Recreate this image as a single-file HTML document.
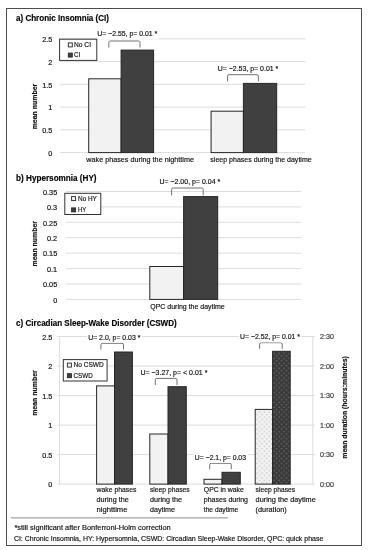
<!DOCTYPE html>
<html lang="en"><head><meta charset="utf-8"><title>Figure</title>
<style>html,body{margin:0;padding:0;background:#fff}body{width:369px;height:550px;overflow:hidden}svg{display:block}text{font-family:'Liberation Sans', sans-serif;stroke:#222;stroke-width:0.18px;paint-order:stroke}</style>
</head><body>
<svg width="369" height="550" viewBox="0 0 369 550" font-family='"Liberation Sans", sans-serif'>
<defs>
<pattern id="dl" width="4.88" height="4.88" patternUnits="userSpaceOnUse" x="273.0" y="406.0"><rect width="4.88" height="4.88" fill="#f2f2f2"/><rect x="0.7" y="0.7" width="1" height="1" fill="#a6a6a6"/><rect x="3.14" y="3.14" width="1" height="1" fill="#a6a6a6"/></pattern>
<pattern id="dd" width="4.88" height="4.88" patternUnits="userSpaceOnUse" x="273.0" y="406.0"><rect width="4.88" height="4.88" fill="#3a3a3a"/><rect x="0.7" y="0.7" width="1" height="1" fill="#909090"/><rect x="3.14" y="3.14" width="1" height="1" fill="#909090"/></pattern>
</defs>
<rect x="0" y="0" width="369" height="550" fill="#fff"/>
<rect x="6.5" y="8.5" width="355" height="537" fill="none" stroke="#4d4d4d" stroke-width="1"/>
<text x="16.0" y="20.8" font-size="8.8" text-anchor="start" font-weight="bold" fill="#000" textLength="93.0" lengthAdjust="spacingAndGlyphs">a) Chronic Insomnia (CI)</text>
<line x1="59.6" y1="38.8" x2="305.3" y2="38.8" stroke="#dcdcdc" stroke-width="1"/>
<text x="52.3" y="42.1" font-size="7.3" text-anchor="end" fill="#111">2.5</text>
<line x1="59.6" y1="61.6" x2="305.3" y2="61.6" stroke="#dcdcdc" stroke-width="1"/>
<text x="52.3" y="64.9" font-size="7.3" text-anchor="end" fill="#111">2</text>
<line x1="59.6" y1="84.3" x2="305.3" y2="84.3" stroke="#dcdcdc" stroke-width="1"/>
<text x="52.3" y="87.6" font-size="7.3" text-anchor="end" fill="#111">1.5</text>
<line x1="59.6" y1="107.1" x2="305.3" y2="107.1" stroke="#dcdcdc" stroke-width="1"/>
<text x="52.3" y="110.4" font-size="7.3" text-anchor="end" fill="#111">1</text>
<line x1="59.6" y1="129.8" x2="305.3" y2="129.8" stroke="#dcdcdc" stroke-width="1"/>
<text x="52.3" y="133.1" font-size="7.3" text-anchor="end" fill="#111">0.5</text>
<line x1="59.6" y1="152.6" x2="305.3" y2="152.6" stroke="#dcdcdc" stroke-width="1"/>
<text x="52.3" y="155.9" font-size="7.3" text-anchor="end" fill="#111">0</text>
<text transform="translate(37.0,106.5) rotate(-90)" x="-22.8" y="0" font-size="7.3" font-weight="bold" fill="#111" textLength="45.5" lengthAdjust="spacingAndGlyphs">mean number</text>
<rect x="88.7" y="78.8" width="32.4" height="73.8" fill="#f2f2f2" stroke="#262626" stroke-width="1"/>
<rect x="121.1" y="50.1" width="32.5" height="102.5" fill="#404040" stroke="#262626" stroke-width="1"/>
<rect x="211.1" y="111.2" width="32.3" height="41.4" fill="#f2f2f2" stroke="#262626" stroke-width="1"/>
<rect x="243.4" y="83.4" width="33.3" height="69.2" fill="#404040" stroke="#262626" stroke-width="1"/>
<path d="M108.8 47.5 V42.5 Q108.8 41.0 110.3 41.0 H138.5 Q140.0 41.0 140.0 42.5 V47.5" fill="none" stroke="#4d4d4d" stroke-width="0.8"/>
<path d="M227.5 81.3 V76.2 Q227.5 74.7 229.0 74.7 H256.9 Q258.4 74.7 258.4 76.2 V81.3" fill="none" stroke="#4d4d4d" stroke-width="0.8"/>
<rect x="95.7" y="29.0" width="63.1" height="10.2" fill="#fff"/>
<text x="97.2" y="36.2" font-size="7.3" text-anchor="start" fill="#111" textLength="60.1" lengthAdjust="spacingAndGlyphs">U= −2.55, p= 0.01 *</text>
<text x="217.7" y="71.1" font-size="7.3" text-anchor="start" fill="#111" textLength="60.6" lengthAdjust="spacingAndGlyphs">U= −2.53, p= 0.01 *</text>
<rect x="59.6" y="39.2" width="37.2" height="21.2" fill="#fff" stroke="#333" stroke-width="1"/>
<rect x="68.3" y="42.9" width="4" height="4" fill="#f2f2f2" stroke="#262626" stroke-width="0.9"/>
<rect x="68.3" y="53.1" width="4" height="4" fill="#404040" stroke="#262626" stroke-width="0.9"/>
<text x="74.0" y="47.0" font-size="7.3" text-anchor="start" fill="#111" textLength="17.0" lengthAdjust="spacingAndGlyphs">No CI</text>
<text x="74.0" y="57.3" font-size="7.3" text-anchor="start" fill="#111" textLength="6.2" lengthAdjust="spacingAndGlyphs">CI</text>
<text x="86.3" y="161.9" font-size="7.3" text-anchor="start" fill="#111" textLength="107.7" lengthAdjust="spacingAndGlyphs">wake phases during the nighttime</text>
<text x="210.3" y="161.9" font-size="7.3" text-anchor="start" fill="#111" textLength="101.4" lengthAdjust="spacingAndGlyphs">sleep phases during the daytime</text>
<text x="16.1" y="180.8" font-size="8.8" text-anchor="start" font-weight="bold" fill="#000" textLength="80.5" lengthAdjust="spacingAndGlyphs">b) Hypersomnia (HY)</text>
<line x1="66.0" y1="191.5" x2="301.0" y2="191.5" stroke="#dcdcdc" stroke-width="1"/>
<text x="57.2" y="194.7" font-size="7.3" text-anchor="end" fill="#111">0.35</text>
<line x1="66.0" y1="206.9" x2="301.0" y2="206.9" stroke="#dcdcdc" stroke-width="1"/>
<text x="57.2" y="210.1" font-size="7.3" text-anchor="end" fill="#111">0.3</text>
<line x1="66.0" y1="222.3" x2="301.0" y2="222.3" stroke="#dcdcdc" stroke-width="1"/>
<text x="57.2" y="225.5" font-size="7.3" text-anchor="end" fill="#111">0.25</text>
<line x1="66.0" y1="237.7" x2="301.0" y2="237.7" stroke="#dcdcdc" stroke-width="1"/>
<text x="57.2" y="240.9" font-size="7.3" text-anchor="end" fill="#111">0.2</text>
<line x1="66.0" y1="253.2" x2="301.0" y2="253.2" stroke="#dcdcdc" stroke-width="1"/>
<text x="57.2" y="256.4" font-size="7.3" text-anchor="end" fill="#111">0.15</text>
<line x1="66.0" y1="268.6" x2="301.0" y2="268.6" stroke="#dcdcdc" stroke-width="1"/>
<text x="57.2" y="271.8" font-size="7.3" text-anchor="end" fill="#111">0.1</text>
<line x1="66.0" y1="284.0" x2="301.0" y2="284.0" stroke="#dcdcdc" stroke-width="1"/>
<text x="57.2" y="287.2" font-size="7.3" text-anchor="end" fill="#111">0.05</text>
<line x1="66.0" y1="299.4" x2="301.0" y2="299.4" stroke="#dcdcdc" stroke-width="1"/>
<text x="57.2" y="302.6" font-size="7.3" text-anchor="end" fill="#111">0</text>
<text transform="translate(37.0,243.7) rotate(-90)" x="-22.8" y="0" font-size="7.3" font-weight="bold" fill="#111" textLength="45.5" lengthAdjust="spacingAndGlyphs">mean number</text>
<rect x="149.8" y="266.5" width="33.8" height="32.9" fill="#f2f2f2" stroke="#262626" stroke-width="1"/>
<rect x="183.6" y="196.6" width="34.1" height="102.8" fill="#404040" stroke="#262626" stroke-width="1"/>
<path d="M171.6 195.4 V189.5 Q171.6 188.0 173.1 188.0 H201.7 Q203.2 188.0 203.2 189.5 V195.4" fill="none" stroke="#4d4d4d" stroke-width="0.8"/>
<text x="159.4" y="184.3" font-size="7.3" text-anchor="start" fill="#111" textLength="60.8" lengthAdjust="spacingAndGlyphs">U= −2.00, p= 0.04 *</text>
<rect x="64.8" y="193.3" width="36.0" height="21.2" fill="#fff" stroke="#333" stroke-width="1"/>
<rect x="71.6" y="196.6" width="4" height="4" fill="#f2f2f2" stroke="#262626" stroke-width="0.9"/>
<rect x="71.6" y="207.9" width="4" height="4" fill="#404040" stroke="#262626" stroke-width="0.9"/>
<text x="78.0" y="200.7" font-size="7.3" text-anchor="start" fill="#111" textLength="18.9" lengthAdjust="spacingAndGlyphs">No HY</text>
<text x="78.0" y="212.1" font-size="7.3" text-anchor="start" fill="#111" textLength="8.2" lengthAdjust="spacingAndGlyphs">HY</text>
<text x="150.3" y="308.8" font-size="7.3" text-anchor="start" fill="#111" textLength="74.4" lengthAdjust="spacingAndGlyphs">QPC during the daytime</text>
<text x="16.1" y="325.9" font-size="8.8" text-anchor="start" font-weight="bold" fill="#000" textLength="160.6" lengthAdjust="spacingAndGlyphs">c) Circadian Sleep-Wake Disorder (CSWD)</text>
<line x1="57.6" y1="336.5" x2="314.8" y2="336.5" stroke="#dcdcdc" stroke-width="1"/>
<text x="52.3" y="339.8" font-size="7.3" text-anchor="end" fill="#111">2.5</text>
<text x="320.0" y="339.3" font-size="7.3" text-anchor="start" fill="#404040" textLength="13.9" lengthAdjust="spacingAndGlyphs">2:30</text>
<line x1="57.6" y1="366.0" x2="314.8" y2="366.0" stroke="#dcdcdc" stroke-width="1"/>
<text x="52.3" y="369.3" font-size="7.3" text-anchor="end" fill="#111">2</text>
<text x="320.0" y="368.8" font-size="7.3" text-anchor="start" fill="#404040" textLength="13.9" lengthAdjust="spacingAndGlyphs">2:00</text>
<line x1="57.6" y1="395.5" x2="314.8" y2="395.5" stroke="#dcdcdc" stroke-width="1"/>
<text x="52.3" y="398.8" font-size="7.3" text-anchor="end" fill="#111">1.5</text>
<text x="320.0" y="398.3" font-size="7.3" text-anchor="start" fill="#404040" textLength="13.9" lengthAdjust="spacingAndGlyphs">1:30</text>
<line x1="57.6" y1="425.1" x2="314.8" y2="425.1" stroke="#dcdcdc" stroke-width="1"/>
<text x="52.3" y="428.4" font-size="7.3" text-anchor="end" fill="#111">1</text>
<text x="320.0" y="427.9" font-size="7.3" text-anchor="start" fill="#404040" textLength="13.9" lengthAdjust="spacingAndGlyphs">1:00</text>
<line x1="57.6" y1="454.6" x2="314.8" y2="454.6" stroke="#dcdcdc" stroke-width="1"/>
<text x="52.3" y="457.9" font-size="7.3" text-anchor="end" fill="#111">0.5</text>
<text x="320.0" y="457.4" font-size="7.3" text-anchor="start" fill="#404040" textLength="13.9" lengthAdjust="spacingAndGlyphs">0:30</text>
<line x1="57.6" y1="484.1" x2="314.8" y2="484.1" stroke="#dcdcdc" stroke-width="1"/>
<text x="52.3" y="487.4" font-size="7.3" text-anchor="end" fill="#111">0</text>
<text x="320.0" y="486.9" font-size="7.3" text-anchor="start" fill="#404040" textLength="13.9" lengthAdjust="spacingAndGlyphs">0:00</text>
<line x1="59.6" y1="336.5" x2="59.6" y2="484.1" stroke="#dcdcdc" stroke-width="1"/>
<line x1="312.8" y1="336.5" x2="312.8" y2="484.1" stroke="#dcdcdc" stroke-width="1"/>
<text transform="translate(37.0,393.0) rotate(-90)" x="-22.8" y="0" font-size="7.3" font-weight="bold" fill="#111" textLength="45.5" lengthAdjust="spacingAndGlyphs">mean number</text>
<text transform="translate(347.0,407.4) rotate(-90)" x="-51.3" y="0" font-size="7.3" font-weight="bold" fill="#111" textLength="102.6" lengthAdjust="spacingAndGlyphs">mean duration (hours:minutes)</text>
<rect x="96.6" y="385.9" width="17.9" height="98.2" fill="#f2f2f2" stroke="#262626" stroke-width="1"/>
<rect x="114.5" y="352.0" width="17.9" height="132.1" fill="#404040" stroke="#262626" stroke-width="1"/>
<rect x="149.8" y="434.0" width="18.2" height="50.1" fill="#f2f2f2" stroke="#262626" stroke-width="1"/>
<rect x="168.0" y="386.7" width="18.3" height="97.4" fill="#404040" stroke="#262626" stroke-width="1"/>
<rect x="204.0" y="479.3" width="18.0" height="4.8" fill="#f2f2f2" stroke="#262626" stroke-width="1"/>
<rect x="222.0" y="472.3" width="18.3" height="11.8" fill="#404040" stroke="#262626" stroke-width="1"/>
<rect x="255.2" y="409.4" width="17.4" height="74.7" fill="url(#dl)" stroke="#262626" stroke-width="1"/>
<rect x="272.6" y="351.3" width="17.6" height="132.8" fill="url(#dd)" stroke="#262626" stroke-width="1"/>
<path d="M100.9 349.5 V344.8 Q100.9 343.3 102.4 343.3 H122.0 Q123.5 343.3 123.5 344.8 V349.5" fill="none" stroke="#4d4d4d" stroke-width="0.8"/>
<path d="M155.3 385.0 V379.9 Q155.3 378.4 156.8 378.4 H175.5 Q177.0 378.4 177.0 379.9 V385.0" fill="none" stroke="#4d4d4d" stroke-width="0.8"/>
<path d="M209.7 469.2 V464.8 Q209.7 463.3 211.2 463.3 H229.8 Q231.3 463.3 231.3 464.8 V469.2" fill="none" stroke="#4d4d4d" stroke-width="0.8"/>
<path d="M259.6 348.8 V344.2 Q259.6 342.7 261.1 342.7 H280.7 Q282.2 342.7 282.2 344.2 V348.8" fill="none" stroke="#4d4d4d" stroke-width="0.8"/>
<rect x="86.7" y="332.4" width="55.2" height="10.2" fill="#fff"/>
<text x="88.2" y="339.6" font-size="7.3" text-anchor="start" fill="#111" textLength="52.2" lengthAdjust="spacingAndGlyphs">U= 2.0, p= 0.03 *</text>
<text x="140.4" y="374.6" font-size="7.3" text-anchor="start" fill="#111" textLength="67.0" lengthAdjust="spacingAndGlyphs">U= −3.27, p= &lt; 0.01 *</text>
<rect x="193.3" y="452.8" width="54.2" height="10.2" fill="#fff"/>
<text x="194.8" y="460.0" font-size="7.3" text-anchor="start" fill="#111" textLength="51.2" lengthAdjust="spacingAndGlyphs">U= −2.1, p= 0.03</text>
<rect x="238.5" y="332.2" width="63.0" height="10.2" fill="#fff"/>
<text x="240.0" y="339.4" font-size="7.3" text-anchor="start" fill="#111" textLength="60.0" lengthAdjust="spacingAndGlyphs">U= −2.52, p= 0.01 *</text>
<rect x="63.3" y="359.6" width="43.8" height="21.4" fill="#fff" stroke="#333" stroke-width="1"/>
<rect x="67.4" y="363.1" width="4" height="4" fill="#f2f2f2" stroke="#262626" stroke-width="0.9"/>
<rect x="67.4" y="373.7" width="4" height="4" fill="#404040" stroke="#262626" stroke-width="0.9"/>
<text x="73.5" y="367.2" font-size="7.3" text-anchor="start" fill="#111" textLength="30.3" lengthAdjust="spacingAndGlyphs">No CSWD</text>
<text x="73.5" y="377.9" font-size="7.3" text-anchor="start" fill="#111" textLength="19.2" lengthAdjust="spacingAndGlyphs">CSWD</text>
<text x="96.5" y="491.7" font-size="7.3" text-anchor="start" fill="#111" textLength="40.0" lengthAdjust="spacingAndGlyphs">wake phases</text>
<text x="96.5" y="501.6" font-size="7.3" text-anchor="start" fill="#111" textLength="32.3" lengthAdjust="spacingAndGlyphs">during the</text>
<text x="96.5" y="511.5" font-size="7.3" text-anchor="start" fill="#111" textLength="30.9" lengthAdjust="spacingAndGlyphs">nighttime</text>
<text x="150.0" y="491.7" font-size="7.3" text-anchor="start" fill="#111" textLength="39.7" lengthAdjust="spacingAndGlyphs">sleep phases</text>
<text x="150.0" y="501.6" font-size="7.3" text-anchor="start" fill="#111" textLength="32.0" lengthAdjust="spacingAndGlyphs">during the</text>
<text x="150.0" y="511.5" font-size="7.3" text-anchor="start" fill="#111" textLength="25.0" lengthAdjust="spacingAndGlyphs">daytime</text>
<text x="203.8" y="491.7" font-size="7.3" text-anchor="start" fill="#111" textLength="40.0" lengthAdjust="spacingAndGlyphs">QPC in wake</text>
<text x="203.8" y="501.6" font-size="7.3" text-anchor="start" fill="#111" textLength="44.2" lengthAdjust="spacingAndGlyphs">phases during</text>
<text x="203.8" y="511.5" font-size="7.3" text-anchor="start" fill="#111" textLength="34.5" lengthAdjust="spacingAndGlyphs">the daytime</text>
<text x="255.6" y="491.7" font-size="7.3" text-anchor="start" fill="#111" textLength="39.5" lengthAdjust="spacingAndGlyphs">sleep phases</text>
<text x="255.6" y="501.6" font-size="7.3" text-anchor="start" fill="#111" textLength="60.2" lengthAdjust="spacingAndGlyphs">during the daytime</text>
<text x="255.6" y="511.5" font-size="7.3" text-anchor="start" fill="#111" textLength="31.2" lengthAdjust="spacingAndGlyphs">(duration)</text>
<line x1="11.0" y1="517.9" x2="228.0" y2="517.9" stroke="#7f7f7f" stroke-width="0.9"/>
<text x="14.4" y="529.5" font-size="7.3" text-anchor="start" fill="#111" textLength="156.3" lengthAdjust="spacingAndGlyphs">*still significant after Bonferroni-Holm correction</text>
<text x="13.9" y="540.9" font-size="7.3" text-anchor="start" fill="#111" textLength="309.4" lengthAdjust="spacingAndGlyphs">CI: Chronic Insomnia, HY: Hypersomnia, CSWD: Circadian Sleep-Wake Disorder, QPC: quick phase</text>
</svg>
</body></html>
